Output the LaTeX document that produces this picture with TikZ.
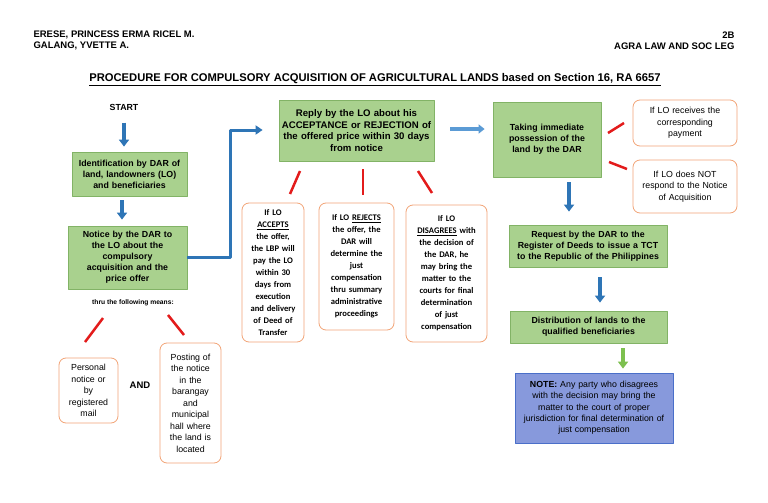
\documentclass[tikz,border=0pt]{standalone}
\usepackage{fontspec}
\setmainfont{Liberation Sans}
\newfontfamily\calfont{Carlito}
\usetikzlibrary{arrows.meta,positioning}
\definecolor{boxgreen}{HTML}{A9D18E}
\definecolor{boxgreenline}{HTML}{82B366}
\definecolor{boxorange}{HTML}{F2A477}
\definecolor{arrowblue}{HTML}{2E75B6}
\definecolor{lightblue}{HTML}{5B9BD5}
\definecolor{notefill}{HTML}{8799DC}
\definecolor{noteline}{HTML}{4A6FC9}
\definecolor{tickred}{HTML}{E31B1B}
\definecolor{arrowgreen}{HTML}{7DC04F}
\tikzset{
  greenbox/.style={draw=boxgreenline, fill=boxgreen, line width=0.8pt, inner sep=2pt, align=center,
    font=\fontsize{8.8}{11}\selectfont\bfseries},
  orangebox/.style={draw=boxorange, fill=white, line width=0.8pt, rounded corners=7pt, inner sep=2pt, align=center,
    font=\fontsize{8.8}{11.5}\selectfont},
  calbox/.style={orangebox, font=\calfont\fontsize{8.6}{12}\selectfont\bfseries},
  downarrow/.style={arrowblue, line width=4pt, -{Triangle[width=10pt,length=7pt]}},
  redtick/.style={tickred, line width=2.5pt},
}
\begin{document}
\begin{tikzpicture}[x=1pt, y=-1pt, line join=round]
	% page
	\useasboundingbox[fill=white] (0,0) rectangle (768,503);
	
	% header
	\node[anchor=west, align=left, font=\fontsize{9.5}{11}\selectfont\bfseries] (names) at (30,40.5) {ERESE, PRINCESS ERMA RICEL M.\\GALANG, YVETTE A.};
	\node[anchor=east, align=right, font=\fontsize{9.5}{11}\selectfont\bfseries] (course) at (738,40.5) {2B\\AGRA LAW AND SOC LEG};
	\node[font=\fontsize{11.2}{13}\selectfont\bfseries] (title) at (375,80) {\underline{PROCEDURE FOR COMPULSORY ACQUISITION OF AGRICULTURAL LANDS based on Section 16, RA 6657}};
	
	% left column
	\node[font=\fontsize{8.8}{10}\selectfont\bfseries] (start) at (124,107) {START};
	\node[greenbox, text width=111pt, minimum height=44pt] (ident) at (129.5,174) {Identification by DAR of\\land, landowners (LO)\\and beneficiaries};
	\node[greenbox, text width=115pt, minimum height=63pt] (notice) at (127.5,257.5) {Notice by the DAR to\\the LO about the\\compulsory\\acquisition and the\\price offer};
	\node[font=\fontsize{6.7}{9}\selectfont\bfseries] (means) at (133,303) {thru the following means:};
	\node[orangebox, text width=55pt, minimum height=65pt] (personal) at (88.5,390.5) {Personal\\notice or\\by\\registered\\mail};
	\node[font=\fontsize{9.5}{10}\selectfont\bfseries] (and) at (140,385) {AND};
	\node[orangebox, text width=57pt, minimum height=120pt] (posting) at (190.5,403) {Posting of\\the notice\\in the\\barangay\\and\\municipal\\hall where\\the land is\\located};
	
	% middle column
	\node[greenbox, text width=151pt, minimum height=61pt, font=\fontsize{9.6}{11.5}\selectfont\bfseries] (reply) at (356.5,130.5) {Reply by the LO about his\\ACCEPTANCE or REJECTION of\\the offered price within 30 days\\from notice};
	\node[calbox, text width=58pt, minimum height=139pt] (accepts) at (273,272.5) {If LO\\\underline{ACCEPTS}\\the offer,\\the LBP will\\pay the LO\\within 30\\days from\\execution\\and delivery\\of Deed of\\Transfer};
	\node[calbox, text width=71pt, minimum height=127pt] (rejects) at (356.5,266.5) {If LO \underline{REJECTS}\\the offer, the\\DAR will\\determine the\\just\\compensation\\thru summary\\administrative\\proceedings};
	\node[calbox, text width=77pt, minimum height=137pt] (disagrees) at (446.5,273.5) {If LO\\\underline{DISAGREES} with\\the decision of\\the DAR, he\\may bring the\\matter to the\\courts for final\\determination\\of just\\compensation};
	
	% right column
	\node[greenbox, text width=104pt, minimum height=75pt] (taking) at (547,139.5) {Taking immediate\\possession of the\\land by the DAR};
	\node[orangebox, text width=100pt, minimum height=46pt] (receives) at (685,123) {If LO receives the\\corresponding\\payment};
	\node[orangebox, text width=100pt, minimum height=53pt] (noreply) at (685,186.5) {If LO does NOT\\respond to the Notice\\of Acquisition};
	\node[greenbox, text width=154pt, minimum height=42pt] (request) at (588,246) {Request by the DAR to the\\Register of Deeds to issue a TCT\\to the Republic of the Philippines};
	\node[greenbox, text width=153pt, minimum height=32pt] (distrib) at (588.5,327) {Distribution of lands to the\\qualified beneficiaries};
	\node[draw=noteline, fill=notefill, line width=0.8pt, inner sep=2pt, align=center, text width=154pt, minimum height=70pt,
	  font=\fontsize{8.8}{11.3}\selectfont] (note) at (594,408) {\textbf{NOTE:} Any party who disagrees\\with the decision may bring the\\matter to the court of proper\\jurisdiction for final determination of\\just compensation};
	
	% block arrows
	\draw[downarrow, shorten <=9pt, shorten >=5pt] (start) -- (start |- ident.north);
	\draw[downarrow, shorten <=4pt, shorten >=6pt] (ident.south -| 122,0) -- (notice.north -| 122,0);
	\draw[downarrow, shorten <=5pt, shorten >=13pt] (taking.south -| 569,0) -- (request.north -| 569,0);
	\draw[downarrow, shorten <=10pt, shorten >=8pt] (request.south -| 600,0) -- (distrib.north -| 600,0);
	\draw[downarrow, arrowgreen, shorten <=5pt, shorten >=4pt] (distrib.south -| 623,0) -- (note.north -| 623,0);
	\draw[lightblue, line width=4pt, -{Triangle[width=9pt,length=6pt]}, shorten <=16pt, shorten >=8pt] (reply.east |- 0,129) -- (taking.west |- 0,129);
	
	% connector notice -> reply
	\draw[arrowblue, line width=3pt, -{Triangle[width=9pt,length=7pt]}, shorten >=16pt] (notice.east |- 0,257) -- (230,257) -- (230,130) -- (reply.west |- 0,130);
	
	% red ticks
	\foreach \a/\b in {{103,318}/{85,342}, {168,315}/{184,335}, {300,171}/{290,194}, {363,169}/{363,195},
	  {418,171}/{432,193}, {608,133}/{624,123}, {609,162}/{627,169}}
	  \draw[redtick] (\a) -- (\b);
\end{tikzpicture}
\end{document}
